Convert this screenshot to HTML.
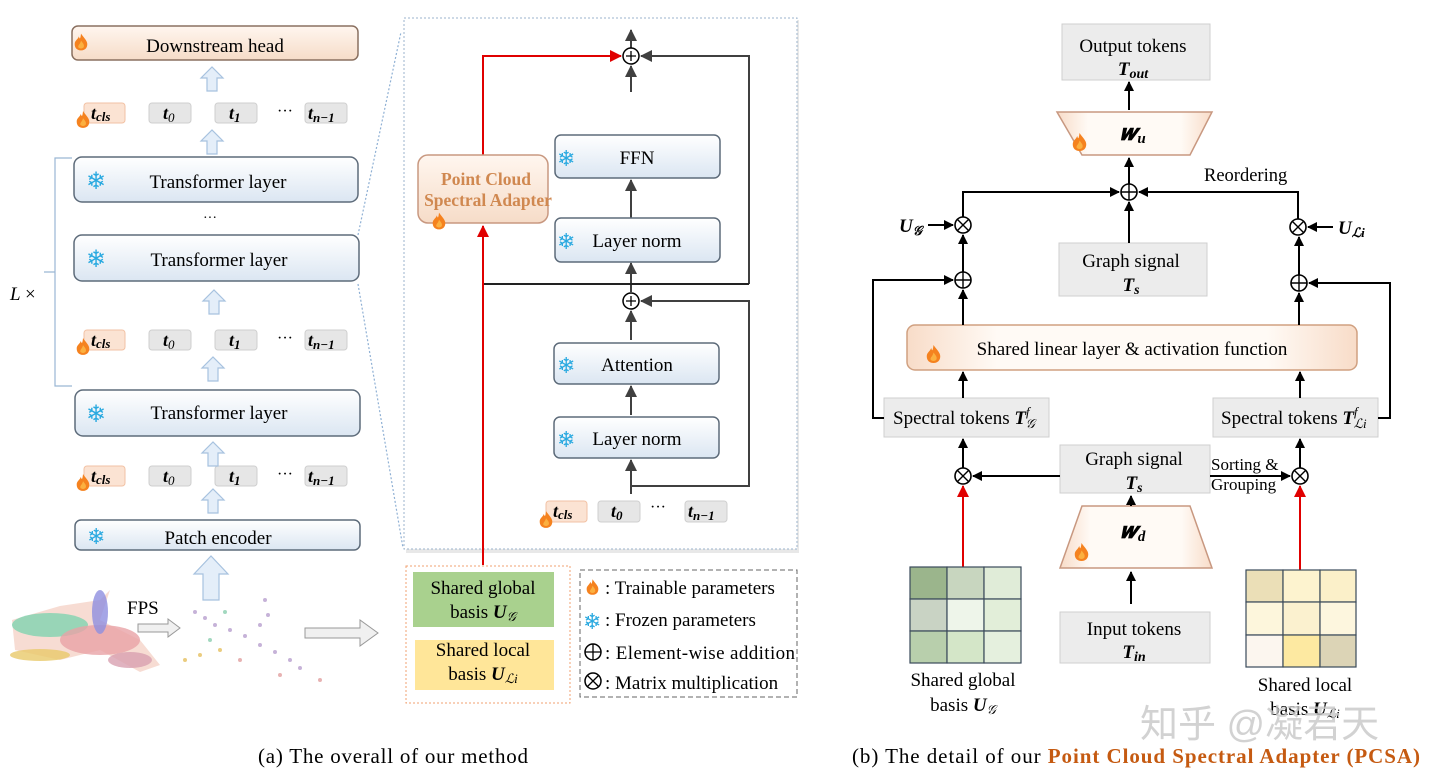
<!DOCTYPE html>
<html><head><meta charset="utf-8"><style>
html,body{margin:0;padding:0;background:#fff;}
svg{display:block;font-family:"Liberation Serif",serif;}
</style></head><body>
<svg width="1440" height="780" viewBox="0 0 1440 780" xmlns="http://www.w3.org/2000/svg">
<defs>
<linearGradient id="bl" x1="0" y1="0" x2="0" y2="1"><stop offset="0" stop-color="#ffffff"/><stop offset="1" stop-color="#dbe6f2"/></linearGradient>
<linearGradient id="pk" x1="0" y1="0" x2="0" y2="1"><stop offset="0" stop-color="#fff6ef"/><stop offset="1" stop-color="#f6dcc8"/></linearGradient>
<linearGradient id="pk2" x1="0" y1="0" x2="1" y2="0"><stop offset="0" stop-color="#f8dcc8"/><stop offset="0.2" stop-color="#fffaf5"/><stop offset="0.8" stop-color="#fffaf5"/><stop offset="1" stop-color="#f8dcc8"/></linearGradient>
<marker id="ab" markerWidth="10" markerHeight="10" refX="9" refY="5" orient="auto" markerUnits="userSpaceOnUse"><path d="M0,0 L10,5 L0,10 z" fill="#000"/></marker>
<marker id="ag" markerWidth="12" markerHeight="12" refX="11" refY="6" orient="auto" markerUnits="userSpaceOnUse"><path d="M0,0 L12,6 L0,12 z" fill="#404040"/></marker>
<marker id="ar" markerWidth="12" markerHeight="12" refX="11" refY="6" orient="auto" markerUnits="userSpaceOnUse"><path d="M0,0 L12,6 L0,12 z" fill="#e00000"/></marker>
<symbol id="fl" viewBox="0 0 20 24" overflow="visible"><path d="M10,0 C14,6 19,10 19,15 C19,21 15,24 10,24 C5,24 1,21 1,15 C1,10 5,9 7,4 C8,8 9,9 10,0z" fill="#f5821f"/><path d="M10,10 C13,14 15,16 14,19 C13,22 7,22 6,19 C6,16 9,15 10,10z" fill="#fbb040"/></symbol>
<symbol id="ha" overflow="visible"><polygon points="-5,24 5,24 5,11 11,11 0,0 -11,11 -5,11" fill="#e4eef9" stroke="#a7c2df" stroke-width="1.2"/></symbol>
</defs>

<!-- ============ LEFT PANEL ============ -->
<rect x="72" y="26" width="286" height="34" rx="6" fill="url(#pk)" stroke="#8a7060" stroke-width="1.5"/>
<use href="#fl" x="74" y="33" width="14" height="18"/>
<text x="215" y="52" font-size="19" text-anchor="middle">Downstream head</text>

<g font-size="18">
<g id="tok1">
<rect x="84" y="103" width="41" height="20" rx="3" fill="#fbe3d3" stroke="#f2c2a4"/>
<text x="91" y="119" font-weight="bold" font-style="italic">t<tspan font-size="13" dy="2">cls</tspan></text>
<rect x="149" y="103" width="42" height="20" rx="3" fill="#e6e6e6" stroke="#cfcfcf"/>
<text x="163" y="119" font-weight="bold" font-style="italic">t<tspan font-size="13" dy="3" font-weight="normal">0</tspan></text>
<rect x="215" y="103" width="42" height="20" rx="3" fill="#e6e6e6" stroke="#cfcfcf"/>
<text x="229" y="119" font-weight="bold" font-style="italic">t<tspan font-size="13" dy="3">1</tspan></text>
<text x="277" y="116" font-size="16">···</text>
<rect x="305" y="103" width="42" height="20" rx="3" fill="#e6e6e6" stroke="#cfcfcf"/>
<text x="308" y="119" font-weight="bold" font-style="italic">t<tspan font-size="13" dy="3">n−1</tspan></text>
<use href="#fl" x="76" y="110" width="14" height="19"/>
</g>
<use href="#tok1" y="227"/>
<use href="#tok1" y="363"/>
</g>

<use href="#ha" x="212" y="67"/>
<use href="#ha" x="212" y="130"/>
<use href="#ha" x="214" y="290"/>
<use href="#ha" x="213" y="357"/>
<use href="#ha" x="213" y="442"/>
<use href="#ha" x="213" y="489"/>
<polygon points="203,600 219,600 219,574 228,574 211,556 194,574 203,574" fill="#e4eef9" stroke="#a7c2df" stroke-width="1.2"/>

<g font-size="19">
<rect x="74" y="157" width="284" height="45" rx="8" fill="url(#bl)" stroke="#5d6b7a" stroke-width="1.5"/>
<text x="86" y="189" fill="#29a9e0" font-size="24">❄</text>
<text x="218" y="188" text-anchor="middle">Transformer layer</text>
<text x="210" y="222" text-anchor="middle" font-size="14">···</text>
<rect x="74" y="235" width="285" height="46" rx="8" fill="url(#bl)" stroke="#5d6b7a" stroke-width="1.5"/>
<text x="86" y="267" fill="#29a9e0" font-size="24">❄</text>
<text x="219" y="266" text-anchor="middle">Transformer layer</text>
<rect x="75" y="390" width="285" height="46" rx="8" fill="url(#bl)" stroke="#5d6b7a" stroke-width="1.5"/>
<text x="86" y="422" fill="#29a9e0" font-size="24">❄</text>
<text x="219" y="419" text-anchor="middle">Transformer layer</text>
<rect x="75" y="520" width="285" height="30" rx="6" fill="url(#bl)" stroke="#5d6b7a" stroke-width="1.5"/>
<text x="87" y="544" fill="#29a9e0" font-size="22">❄</text>
<text x="218" y="544" text-anchor="middle">Patch encoder</text>
</g>
<path d="M72,158 L55,158 L55,386 L72,386 M55,272 L44,272" fill="none" stroke="#9ab6d4" stroke-width="1.2"/>
<text x="10" y="300" font-size="19" font-style="italic">L</text><text x="25" y="300" font-size="19">×</text>

<line x1="358" y1="235" x2="401" y2="32" stroke="#8fb0d4" stroke-width="1.2" stroke-dasharray="2,2"/>
<line x1="358" y1="284" x2="403" y2="548" stroke="#8fb0d4" stroke-width="1.2" stroke-dasharray="2,2"/>

<!-- point clouds -->
<g>
<path d="M12,620 L60,606 L100,600 L110,590 L100,620 L140,640 L160,665 L140,672 L100,650 L60,660 L15,650 Z" fill="#f0b9a8" opacity="0.5"/>
<ellipse cx="50" cy="625" rx="38" ry="12" fill="#7fd3b0" opacity="0.8"/>
<ellipse cx="100" cy="640" rx="40" ry="15" fill="#e9a2a6" opacity="0.8"/>
<ellipse cx="100" cy="612" rx="8" ry="22" fill="#8f8fe0" opacity="0.8"/>
<ellipse cx="40" cy="655" rx="30" ry="6" fill="#e9c96a" opacity="0.8"/>
<ellipse cx="130" cy="660" rx="22" ry="8" fill="#d8a0b0" opacity="0.8"/>
</g>
<text x="127" y="614" font-size="19">FPS</text>
<polygon points="138,624 168,624 168,619 180,628 168,637 168,632 138,632" fill="#f0f0f0" stroke="#999"/>
<g fill="#b89fcf" opacity="0.8">
<circle cx="195" cy="612" r="2"/><circle cx="205" cy="618" r="2"/><circle cx="215" cy="625" r="2"/><circle cx="230" cy="630" r="2"/><circle cx="245" cy="636" r="2"/><circle cx="260" cy="645" r="2"/><circle cx="275" cy="652" r="2"/><circle cx="290" cy="660" r="2"/><circle cx="300" cy="668" r="2"/><circle cx="265" cy="600" r="2"/><circle cx="268" cy="615" r="2"/><circle cx="260" cy="625" r="2"/><circle cx="185" cy="660" r="2" fill="#e5c060"/><circle cx="200" cy="655" r="2" fill="#e5c060"/><circle cx="220" cy="650" r="2" fill="#e5c060"/><circle cx="240" cy="660" r="2" fill="#e2a0a0"/><circle cx="280" cy="675" r="2" fill="#e2a0a0"/><circle cx="320" cy="680" r="2" fill="#e2a0a0"/><circle cx="210" cy="640" r="2" fill="#8ccfb0"/><circle cx="225" cy="612" r="2" fill="#8ccfb0"/>
</g>
<polygon points="305,628 360,628 360,620 378,633 360,646 360,638 305,638" fill="#f0f0f0" stroke="#999"/>

<!-- ============ MIDDLE PANEL ============ -->
<rect x="406" y="20" width="393" height="533" fill="#d8d8d8" opacity="0.6"/>
<rect x="404" y="18" width="393" height="531" fill="#fff" stroke="#9bb3cc" stroke-dasharray="2,2"/>

<g stroke="#404040" stroke-width="2" fill="none">
<line x1="631" y1="48" x2="631" y2="30" marker-end="url(#ag)"/>
<line x1="631" y1="92" x2="631" y2="66" marker-end="url(#ag)"/>
<path d="M749,284 L749,56 L641,56" marker-end="url(#ag)"/>
<line x1="631" y1="218" x2="631" y2="180" marker-end="url(#ag)"/>
<line x1="631" y1="292" x2="631" y2="263" marker-end="url(#ag)"/>
<line x1="631" y1="340" x2="631" y2="311" marker-end="url(#ag)"/>
<line x1="631" y1="415" x2="631" y2="386" marker-end="url(#ag)"/>
<line x1="631" y1="494" x2="631" y2="460" marker-end="url(#ag)"/>
<path d="M631,486 L749,486 L749,301 L641,301" marker-end="url(#ag)"/>
</g>
<line x1="483" y1="284" x2="749" y2="284" stroke="#222" stroke-width="2"/>
<circle cx="631" cy="56" r="8" fill="#fff" stroke="#000" stroke-width="1.5"/>
<path d="M626,56 H636 M631,51 V61" stroke="#000" stroke-width="1.3"/>
<circle cx="631" cy="301" r="8" fill="#fff" stroke="#000" stroke-width="1.5"/>
<path d="M626,301 H636 M631,296 V306" stroke="#000" stroke-width="1.3"/>

<g stroke="#e00000" stroke-width="2" fill="none">
<path d="M483,565 L483,226" marker-end="url(#ar)"/>
<path d="M483,155 L483,56 L621,56" marker-end="url(#ar)"/>
</g>
<rect x="418" y="155" width="130" height="68" rx="10" fill="url(#pk)" stroke="#c89880" stroke-width="1.5"/>
<text x="486" y="185" font-size="17.5" font-weight="bold" fill="#d08850" text-anchor="middle">Point Cloud</text>
<text x="488" y="206" font-size="17.5" font-weight="bold" fill="#d08850" text-anchor="middle">Spectral Adapter</text>
<use href="#fl" x="432" y="212" width="14" height="18"/>

<g font-size="19">
<rect x="555" y="135" width="165" height="43" rx="6" fill="url(#bl)" stroke="#5d6b7a" stroke-width="1.5"/>
<text x="557" y="166" fill="#29a9e0" font-size="22">❄</text>
<text x="637" y="164" text-anchor="middle">FFN</text>
<rect x="555" y="218" width="165" height="44" rx="6" fill="url(#bl)" stroke="#5d6b7a" stroke-width="1.5"/>
<text x="557" y="249" fill="#29a9e0" font-size="22">❄</text>
<text x="637" y="247" text-anchor="middle">Layer norm</text>
<rect x="554" y="343" width="165" height="41" rx="6" fill="url(#bl)" stroke="#5d6b7a" stroke-width="1.5"/>
<text x="557" y="373" fill="#29a9e0" font-size="22">❄</text>
<text x="637" y="371" text-anchor="middle">Attention</text>
<rect x="554" y="417" width="165" height="41" rx="6" fill="url(#bl)" stroke="#5d6b7a" stroke-width="1.5"/>
<text x="557" y="447" fill="#29a9e0" font-size="22">❄</text>
<text x="637" y="445" text-anchor="middle">Layer norm</text>
</g>
<g font-size="18">
<rect x="546" y="501" width="41" height="21" rx="3" fill="#fbe3d3" stroke="#f2c2a4"/>
<text x="553" y="517" font-weight="bold" font-style="italic">t<tspan font-size="13" dy="2">cls</tspan></text>
<use href="#fl" x="539" y="510" width="14" height="19"/>
<rect x="598" y="501" width="42" height="21" rx="3" fill="#e6e6e6" stroke="#cfcfcf"/>
<text x="611" y="517" font-weight="bold" font-style="italic">t<tspan font-size="13" dy="3">0</tspan></text>
<text x="650" y="512" font-size="16">···</text>
<rect x="685" y="501" width="42" height="21" rx="3" fill="#e6e6e6" stroke="#cfcfcf"/>
<text x="688" y="517" font-weight="bold" font-style="italic">t<tspan font-size="13" dy="3">n−1</tspan></text>
</g>

<!-- legend -->
<rect x="406" y="566" width="164" height="137" fill="none" stroke="#f0a070" stroke-dasharray="2,2"/>
<rect x="413" y="572" width="141" height="55" fill="#a9d18e"/>
<text x="483" y="594" font-size="19" text-anchor="middle">Shared global</text>
<text x="483" y="618" font-size="19" text-anchor="middle">basis <tspan font-weight="bold" font-style="italic">U</tspan><tspan font-size="13" font-style="italic" dy="3">𝒢</tspan></text>
<rect x="415" y="640" width="139" height="50" fill="#ffe699"/>
<text x="483" y="656" font-size="19" text-anchor="middle">Shared local</text>
<text x="483" y="680" font-size="19" text-anchor="middle">basis <tspan font-weight="bold" font-style="italic">U</tspan><tspan font-size="13" font-style="italic" dy="3">ℒi</tspan></text>

<rect x="580" y="570" width="217" height="127" fill="none" stroke="#666" stroke-dasharray="5,3"/>
<g font-size="19">
<use href="#fl" x="586" y="579" width="13" height="16"/>
<text x="605" y="594">: Trainable parameters</text>
<text x="583" y="629" fill="#29a9e0" font-size="22">❄</text>
<text x="605" y="626">: Frozen parameters</text>
<circle cx="593" cy="652" r="8" fill="none" stroke="#000" stroke-width="1.5"/><path d="M585,652 H601 M593,644 V660" stroke="#000" stroke-width="1.3"/>
<text x="605" y="659" textLength="190">: Element-wise addition</text>
<circle cx="593" cy="681" r="8" fill="none" stroke="#000" stroke-width="1.5"/><path d="M587,675 L599,687 M599,675 L587,687" stroke="#000" stroke-width="1.3"/>
<text x="605" y="689">: Matrix multiplication</text>
</g>

<!-- ============ RIGHT PANEL ============ -->
<g font-size="19">
<rect x="1062" y="24" width="148" height="56" fill="#ececec" stroke="#cfcfcf"/>
<text x="1133" y="52" text-anchor="middle">Output tokens</text>
<text x="1133" y="75" text-anchor="middle" font-weight="bold" font-style="italic">T<tspan font-size="14" dy="3">out</tspan></text>

<polygon points="1057,112 1212,112 1190,155 1082,155" fill="url(#pk2)" stroke="#c89880" stroke-width="1.5"/>
<text x="1133" y="140" text-anchor="middle" font-weight="bold" font-style="italic" font-size="22">𝒘<tspan font-size="15" dy="3">u</tspan></text>
<use href="#fl" x="1072" y="132" width="15" height="20"/>

<rect x="1059" y="243" width="148" height="53" fill="#ececec" stroke="#cfcfcf"/>
<text x="1131" y="267" text-anchor="middle">Graph signal</text>
<text x="1131" y="291" text-anchor="middle" font-weight="bold" font-style="italic">T<tspan font-size="14" dy="3">s</tspan></text>

<rect x="907" y="325" width="450" height="45" rx="8" fill="url(#pk2)" stroke="#d0a080" stroke-width="1.5"/>
<text x="1132" y="355" text-anchor="middle">Shared linear layer &amp; activation function</text>
<use href="#fl" x="926" y="344" width="15" height="20"/>

<rect x="884" y="398" width="165" height="39" fill="#ececec" stroke="#cfcfcf"/>
<text x="893" y="424">Spectral tokens <tspan font-weight="bold" font-style="italic">T</tspan><tspan font-size="13" font-style="italic" dy="-8">f</tspan><tspan font-size="13" font-style="italic" dx="-4" dy="12">𝒢</tspan></text>
<rect x="1213" y="398" width="165" height="39" fill="#ececec" stroke="#cfcfcf"/>
<text x="1221" y="424">Spectral tokens <tspan font-weight="bold" font-style="italic">T</tspan><tspan font-size="13" font-style="italic" dy="-8">f</tspan><tspan font-size="13" font-style="italic" dx="-4" dy="12">ℒi</tspan></text>

<rect x="1060" y="445" width="150" height="48" fill="#ececec" stroke="#cfcfcf"/>
<text x="1134" y="465" text-anchor="middle">Graph signal</text>
<text x="1134" y="489" text-anchor="middle" font-weight="bold" font-style="italic">T<tspan font-size="14" dy="3">s</tspan></text>

<polygon points="1082,506 1190,506 1212,568 1060,568" fill="url(#pk2)" stroke="#c89880" stroke-width="1.5"/>
<text x="1133" y="538" text-anchor="middle" font-weight="bold" font-style="italic" font-size="22">𝒘<tspan font-size="15" dy="3">d</tspan></text>
<use href="#fl" x="1074" y="542" width="15" height="20"/>

<rect x="1060" y="612" width="150" height="51" fill="#ececec" stroke="#cfcfcf"/>
<text x="1134" y="635" text-anchor="middle">Input tokens</text>
<text x="1134" y="658" text-anchor="middle" font-weight="bold" font-style="italic">T<tspan font-size="14" dy="3">in</tspan></text>

<text x="1204" y="181" font-size="18.5">Reordering</text>
<text x="1211" y="470" font-size="17">Sorting &amp;</text>
<text x="1211" y="490" font-size="17">Grouping</text>

<text x="899" y="232" font-weight="bold" font-style="italic">U<tspan font-size="13" dy="3">𝒢</tspan></text>
<text x="1338" y="234" font-weight="bold" font-style="italic">U<tspan font-size="13" dy="3">ℒi</tspan></text>

<text x="963" y="686" text-anchor="middle">Shared global</text>
<text x="963" y="711" text-anchor="middle">basis <tspan font-weight="bold" font-style="italic">U</tspan><tspan font-size="13" font-style="italic" dy="3">𝒢</tspan></text>
<text x="1305" y="691" text-anchor="middle">Shared local</text>
<text x="1305" y="715" text-anchor="middle">basis <tspan font-weight="bold" font-style="italic">U</tspan><tspan font-size="13" font-style="italic" dy="3">ℒi</tspan></text>
</g>

<g stroke="#000" stroke-width="2" fill="none">
<line x1="1129" y1="110" x2="1129" y2="82" marker-end="url(#ab)"/>
<line x1="1129" y1="184" x2="1129" y2="158" marker-end="url(#ab)"/>
<path d="M963,217 L963,192 L1119,192" marker-end="url(#ab)"/>
<path d="M1298,219 L1298,192 L1139,192" marker-end="url(#ab)"/>
<line x1="1129" y1="243" x2="1129" y2="202" marker-end="url(#ab)"/>
<line x1="928" y1="225" x2="953" y2="225" marker-end="url(#ab)"/>
<line x1="1333" y1="227" x2="1308" y2="227" marker-end="url(#ab)"/>
<line x1="963" y1="272" x2="963" y2="235" marker-end="url(#ab)"/>
<line x1="1299" y1="275" x2="1299" y2="237" marker-end="url(#ab)"/>
<line x1="963" y1="325" x2="963" y2="290" marker-end="url(#ab)"/>
<line x1="1299" y1="325" x2="1299" y2="293" marker-end="url(#ab)"/>
<path d="M884,418 L873,418 L873,280 L953,280" marker-end="url(#ab)"/>
<path d="M1378,418 L1390,418 L1390,283 L1309,283" marker-end="url(#ab)"/>
<line x1="963" y1="398" x2="963" y2="372" marker-end="url(#ab)"/>
<line x1="1300" y1="398" x2="1300" y2="372" marker-end="url(#ab)"/>
<line x1="963" y1="468" x2="963" y2="439" marker-end="url(#ab)"/>
<line x1="1300" y1="468" x2="1300" y2="439" marker-end="url(#ab)"/>
<line x1="1060" y1="476" x2="973" y2="476" marker-end="url(#ab)"/>
<line x1="1210" y1="476" x2="1290" y2="476" marker-end="url(#ab)"/>
<line x1="1131" y1="506" x2="1131" y2="496" marker-end="url(#ab)"/>
<line x1="1131" y1="604" x2="1131" y2="572" marker-end="url(#ab)"/>
</g>
<g stroke="#e00000" stroke-width="2" fill="none">
<line x1="963" y1="567" x2="963" y2="486" marker-end="url(#ar)"/>
<line x1="1300" y1="570" x2="1300" y2="486" marker-end="url(#ar)"/>
</g>
<g fill="#fff" stroke="#000" stroke-width="1.6">
<circle cx="1129" cy="192" r="8"/><circle cx="963" cy="225" r="8"/><circle cx="1298" cy="227" r="8"/>
<circle cx="963" cy="280" r="8"/><circle cx="1299" cy="283" r="8"/>
<circle cx="963" cy="476" r="8"/><circle cx="1300" cy="476" r="8"/>
</g>
<g stroke="#000" stroke-width="1.4">
<path d="M1121,192 H1137 M1129,184 V200"/>
<path d="M955,280 H971 M963,272 V288"/>
<path d="M1291,283 H1307 M1299,275 V291"/>
<path d="M957,219 L969,231 M969,219 L957,231"/>
<path d="M1292,221 L1304,233 M1304,221 L1292,233"/>
<path d="M957,470 L969,482 M969,470 L957,482"/>
<path d="M1294,470 L1306,482 M1306,470 L1294,482"/>
</g>

<!-- grids -->
<g stroke="#3a4a5a" stroke-width="1.2">
<rect x="910" y="567" width="37" height="32" fill="#9bb58c"/><rect x="947" y="567" width="37" height="32" fill="#c8d6bf"/><rect x="984" y="567" width="37" height="32" fill="#e0ecd8"/>
<rect x="910" y="599" width="37" height="32" fill="#c9d3c4"/><rect x="947" y="599" width="37" height="32" fill="#eef5ea"/><rect x="984" y="599" width="37" height="32" fill="#e2eed9"/>
<rect x="910" y="631" width="37" height="32" fill="#b8cfac"/><rect x="947" y="631" width="37" height="32" fill="#d4e6c8"/><rect x="984" y="631" width="37" height="32" fill="#e5f0de"/>
<rect x="1246" y="570" width="37" height="32" fill="#ebdfb7"/><rect x="1283" y="570" width="37" height="32" fill="#fdf3cf"/><rect x="1320" y="570" width="36" height="32" fill="#fbf0c9"/>
<rect x="1246" y="602" width="37" height="33" fill="#fdf6dc"/><rect x="1283" y="602" width="37" height="33" fill="#fbf1cf"/><rect x="1320" y="602" width="36" height="33" fill="#fdf6de"/>
<rect x="1246" y="635" width="37" height="32" fill="#fcf6ef"/><rect x="1283" y="635" width="37" height="32" fill="#fde9a1"/><rect x="1320" y="635" width="36" height="32" fill="#dcd4b6"/>
</g>

<text x="1140" y="737" font-size="38" fill="#c8c8c8" opacity="0.8" font-family="'Liberation Sans','Noto Sans CJK SC',sans-serif">知乎 @凝君天</text>

<!-- captions -->
<text x="393" y="763" font-size="21" text-anchor="middle" textLength="270">(a) The overall of our method</text>
<text x="852" y="763" font-size="21" textLength="568">(b) The detail of our <tspan fill="#c55a11" font-weight="bold">Point Cloud Spectral Adapter (PCSA)</tspan></text>
</svg>
</body></html>
